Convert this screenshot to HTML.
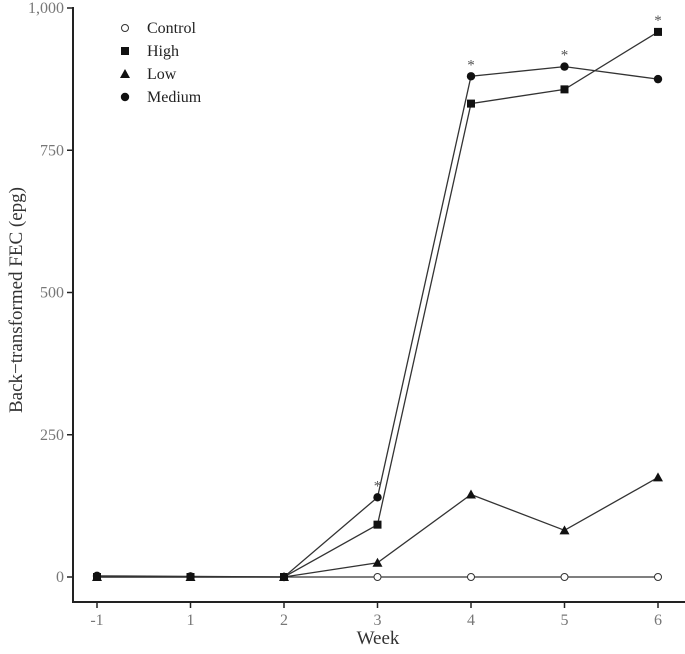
<!DOCTYPE html>
<html><head><meta charset="utf-8"><style>
body{margin:0;background:#fff}
svg text{font-family:"Liberation Serif",serif}
</style></head><body>
<svg id="c" width="685" height="649" xmlns="http://www.w3.org/2000/svg"></svg>
<script>
const weeks=["-1","1","2","3","4","5","6"];
const yTicks=[0,250,500,750,1000];
const yTickLabels=["0","250","500","750","1,000"];
const control=[0,0,0,0,0,0,0];
const high=[0,0,0,92,832,857,958];
const low=[0,0,0,25,145,82,175];
const medium=[2,1,0,140,880,897,875];
const starWeeks=[3,4,5,6];
const starValues=[140,880,897,958];
const NS="http://www.w3.org/2000/svg";
const svg=document.getElementById('c');
const xs=i=>97+i*93.5;
const ys=v=>577-v*0.569;
function mk(t,a,p){const e=document.createElementNS(NS,t);for(const k in a)e.setAttribute(k,a[k]);(p||svg).appendChild(e);return e;}
let e;
e=mk('line',{x1:73,y1:7,x2:73,y2:603,stroke:'#222','stroke-width':2});


e=mk('line',{x1:72,y1:602,x2:685,y2:602,stroke:'#222','stroke-width':2});


yTicks.forEach((v,i)=>{
 e=mk('line',{x1:67,y1:ys(v),x2:73,y2:ys(v),stroke:'#222','stroke-width':1.5});
 
 
 e=mk('text',{x:64,y:ys(v)+5,'text-anchor':'end','font-size':16,fill:'#777'});e.textContent=yTickLabels[i];
 
 
});
weeks.forEach((w,i)=>{
 e=mk('line',{x1:xs(i),y1:602,x2:xs(i),y2:608,stroke:'#222','stroke-width':1.5});
 
 
 e=mk('text',{x:xs(i),y:625,'text-anchor':'middle','font-size':16,fill:'#777'});e.textContent=w;
 
 
});
e=mk('text',{x:378,y:644,'text-anchor':'middle','font-size':19,fill:'#333'});e.textContent='Week';


e=mk('text',{x:0,y:0,'text-anchor':'middle','font-size':19,fill:'#333',transform:'translate(22,300) rotate(-90)'});e.textContent='Back\u2212transformed FEC (epg)';


function marker(shape,x,y,g){
 if(shape==='open')return mk('circle',{cx:x,cy:y,r:3.5,fill:'#fff',stroke:'#333','stroke-width':1},g);
 if(shape==='square')return mk('rect',{x:x-4,y:y-4,width:8,height:8,fill:'#111'},g);
 if(shape==='tri')return mk('polygon',{points:`${x},${y-5} ${x-5},${y+4} ${x+5},${y+4}`,fill:'#111'},g);
 return mk('circle',{cx:x,cy:y,r:4.2,fill:'#111'},g);
}
const series=[["control",control,"open"],["high",high,"square"],["low",low,"tri"],["medium",medium,"dot"]];
series.forEach(([n,d,s])=>{
 const g=mk('g',{});
 
 
 e=mk('polyline',{points:d.map((v,i)=>xs(i)+','+ys(v)).join(' '),fill:'none',stroke:'#333','stroke-width':1.3},g);
 
 
 d.forEach((v,i)=>{e=marker(s,xs(i),ys(v),g);
  
  });
});
starWeeks.forEach((w,i)=>{
 e=mk('text',{x:xs(weeks.indexOf(String(w))),y:ys(starValues[i])-7,'text-anchor':'middle','font-size':15,fill:'#555'});e.textContent='*';
 
 
});
const legend=[["Control","open"],["High","square"],["Low","tri"],["Medium","dot"]];
legend.forEach(([l,s],i)=>{
 const y=28+i*23;
 const g=mk('g',{});
 
 
 marker(s,125,y,g);
 e=mk('text',{x:147,y:y+5,'font-size':16,fill:'#222'},g);e.textContent=l;
});
</script>
</body></html>
